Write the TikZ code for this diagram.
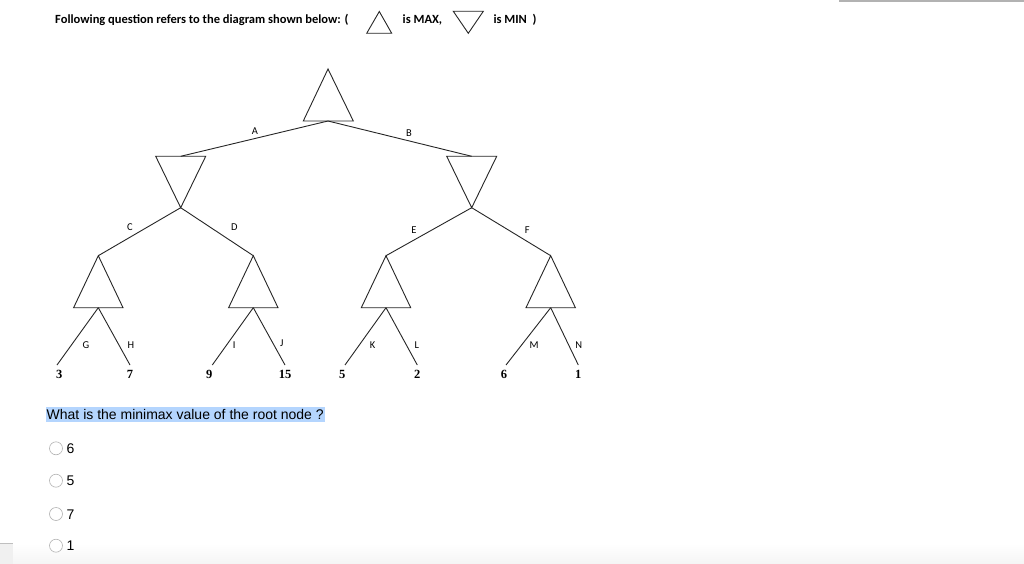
\documentclass[tikz,border=0pt]{standalone}
\usepackage{fontspec}
\setmainfont{Liberation Sans}
\newfontfamily\calib{Carlito}
\newfontfamily\timesf{Liberation Serif}
\definecolor{hl}{RGB}{180,213,254}
\begin{document}
\begin{tikzpicture}[x=1pt,y=-1pt,
  tri/.style={draw=black!85,line width=0.9pt,line join=miter},
  edge/.style={draw=black!85,line width=0.9pt},
  elab/.style={font=\calib\fontsize{10.5}{12}\selectfont,inner sep=0pt},
  leaf/.style={font=\timesf\bfseries\fontsize{12.5}{14}\selectfont,inner sep=0pt},
  hdr/.style={font=\calib\bfseries\fontsize{12.5}{14}\selectfont,inner sep=0pt,anchor=base west},
  opt/.style={font=\fontsize{14}{16}\selectfont,inner sep=0pt,anchor=base west},
  radio/.style={draw=black!30,fill=white,line width=0.6pt,circle,minimum size=13pt,inner sep=0pt}]
\useasboundingbox (0,0) rectangle (1024,564);
\fill[white] (0,0) rectangle (1024,564);
% bottom band
\shade[top color=white,bottom color=black!4] (13,543) rectangle (1024,564);
\fill[black!6] (0,543) rectangle (13,564);
\draw[black!25,line width=0.8pt] (0,543.5) -- (13,543.5);
% top right rule
\draw[black!30,line width=1.2pt] (839,1) -- (1024,1);

% header
\node[hdr] (h1) at (55,24) {Following question refers to the diagram shown below: (};
\draw[tri] (379.3,11.5) -- (391.7,33.3) -- (366.7,33.3) -- cycle;
\node[hdr] (h2) at (402.5,24) {is MAX,};
\draw[tri] (453.3,11.3) -- (483.3,11.3) -- (468.3,33.3) -- cycle;
\node[hdr] (h3) at (493.3,24) {is MIN~~)};

% root MAX
\coordinate (rA) at (328,69);
\coordinate (rB) at (328,121);
\draw[tri] (rA) -- (353.3,121) -- (303.3,121) -- cycle;
% MIN nodes
\coordinate (lT) at (180.7,156.3);
\coordinate (lB) at (180.7,207.7);
\draw[tri] (155.7,156.3) -- (205.7,156.3) -- (lB) -- cycle;
\coordinate (rT) at (471.7,156.3);
\coordinate (rBt) at (471.7,207.7);
\draw[tri] (446.7,156.3) -- (496.7,156.3) -- (rBt) -- cycle;
\draw[edge] (rB) -- (lT);
\draw[edge] (rB) -- (rT);
\node[elab] (A) at (255,131) {A};
\node[elab] (B) at (409,133) {B};

% MAX nodes level 2
\foreach \n/\x in {c/98.3,d/253.3,e/386,f/550.7}{
  \coordinate (\n T) at (\x,255.7);
  \coordinate (\n B) at (\x,307.7);
  \draw[tri] (\n T) -- (\x+24.7,307.7) -- (\x-24.7,307.7) -- cycle;
}
\draw[edge] (lB) -- (cT);
\draw[edge] (lB) -- (dT);
\draw[edge] (rBt) -- (eT);
\draw[edge] (rBt) -- (fT);
\node[elab] (C) at (130,227.5) {C};
\node[elab] (D) at (234.3,227.5) {D};
\node[elab] (E) at (414,230) {E};
\node[elab] (F) at (527.3,230) {F};

% leaves
\foreach \n/\p/\x/\v in {g/c/57/3,h/c/130/7,i/d/212.3/9,j/d/285/15,k/e/345/5,l/e/417.3/2,m/f/506/6,n/f/578.3/1}{
  \coordinate (\n E) at (\x,365);
  \draw[edge] (\p B) -- (\n E);
}
\node[leaf] (v3) at (59.3,374.5) {3};
\node[leaf] (v7) at (130,374.5) {7};
\node[leaf] (v9) at (209.3,374.5) {9};
\node[leaf] (v15) at (285,374.5) {15};
\node[leaf] (v5) at (342.3,374.5) {5};
\node[leaf] (v2) at (417.3,374.5) {2};
\node[leaf] (v6) at (504,374.5) {6};
\node[leaf] (v1) at (578.3,374.5) {1};
\node[elab] (G) at (86,345) {G};
\node[elab] (H) at (131,345) {H};
\node[elab] (I) at (234.3,345) {I};
\node[elab] (J) at (281.7,343.5) {J};
\node[elab] (K) at (372.7,345.3) {K};
\node[elab] (L) at (416.7,345.3) {L};
\node[elab] (M) at (534,345) {M};
\node[elab] (N) at (578.7,345) {N};

% question
\fill[hl] (46,407.3) rectangle (325,422.3);
\node[opt] (q) at (46.5,419.5) {What is the minimax value of the root node ?};
\foreach \i/\y/\t in {1/448.3/6,2/480.7/5,3/514/7,4/545.7/1}{
  \node[radio] (r\i) at (56,\y) {};
  \node[opt] (o\i) at (66.5,\y+5) {\t};
}
\end{tikzpicture}
\end{document}
